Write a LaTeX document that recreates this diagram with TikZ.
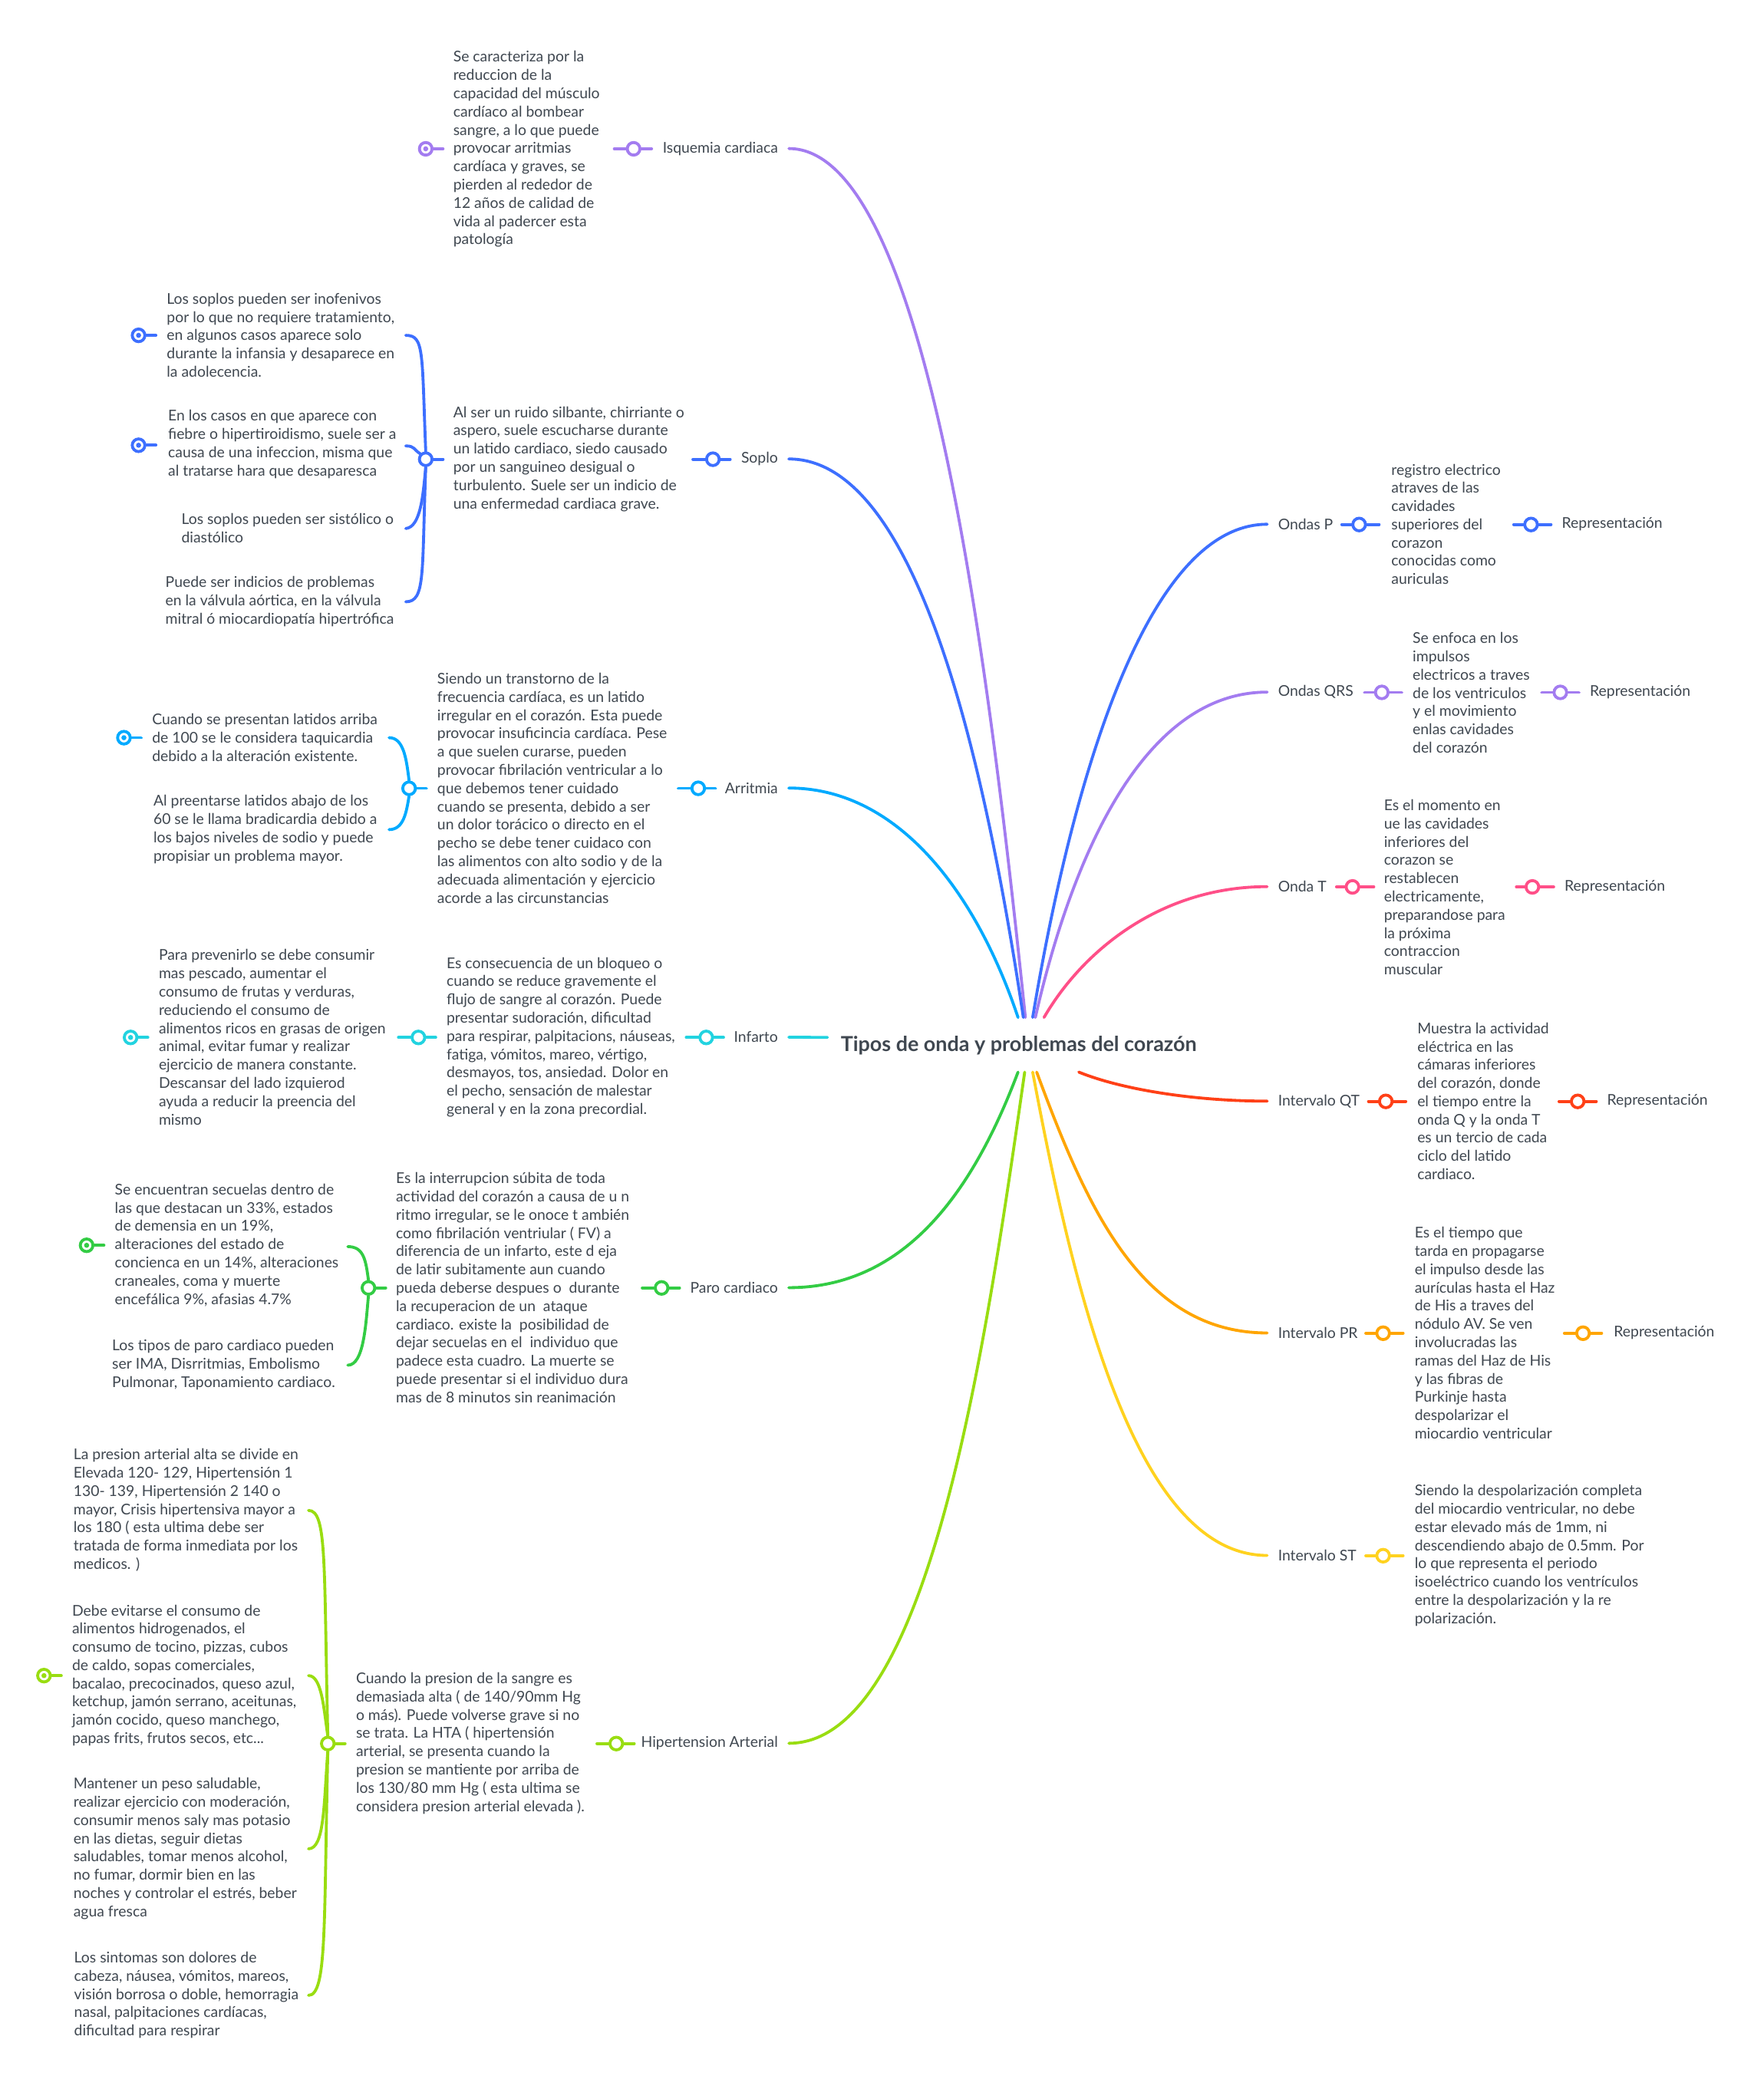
\documentclass[tikz,border=0pt]{standalone}
\usepackage{fontspec}
\setmainfont{Lato}
\definecolor{cpurple}{HTML}{A37CF0}
\definecolor{cblue}{HTML}{3D6FFF}
\definecolor{ccyan}{HTML}{00AAFF}
\definecolor{cteal}{HTML}{22D3E0}
\definecolor{cgreen}{HTML}{33CC44}
\definecolor{clime}{HTML}{99DD11}
\definecolor{cpink}{HTML}{FF4F88}
\definecolor{cred}{HTML}{FF4017}
\definecolor{corange}{HTML}{FFA500}
\definecolor{cyellow}{HTML}{FFD21F}
\definecolor{ctext}{HTML}{3F4750}
\tikzset{
  conn/.style={line width=2.2pt,line cap=round},
  ringnode/.style={circle,fill=white,line width=2.2pt,minimum size=9.5pt,inner sep=0pt},
  body/.style={anchor=west,align=left,inner sep=0pt,yshift=0.2pt,text=ctext,font=\fontsize{11.15}{13.7}\selectfont},
  labw/.style={body,inner xsep=8pt},
  labe/.style={anchor=east,align=left,inner sep=0pt,inner xsep=8pt,yshift=0.2pt,text=ctext,font=\fontsize{11.15}{13.7}\selectfont},
  rootnode/.style={anchor=center,inner sep=0pt,text=ctext,font=\fontsize{15.5}{18}\selectfont\bfseries},
}
% name, colour, x1, cx, x2, y
\newcommand\stubring[6]{%
  \coordinate (#1-a) at (#3,#6);
  \coordinate (#1-b) at (#5,#6);
  \node[ringnode,draw=#2] (#1) at (#4,#6) {};
  \draw[conn,#2] (#1-a) -- (#1.west);
  \draw[conn,#2] (#1.east) -- (#1-b);
}
% name, colour, cx, y
\newcommand\targetring[4]{%
  \coordinate (#1-b) at (#3+13,#4);
  \node[ringnode,draw=#2] (#1) at (#3,#4) {};
  \fill[#2] (#1.center) circle (1.9pt);
  \draw[conn,#2] (#1.east) -- (#1-b);
}
% name, colour, cx, y
\newcommand\branchring[4]{%
  \coordinate (#1-b) at (#3+13,#4);
  \node[ringnode,draw=#2] (#1) at (#3,#4) {};
  \draw[conn,#2] (#1.east) -- (#1-b);
}
\begin{document}
\begin{tikzpicture}[x=1pt,y=-1pt]
\useasboundingbox (0,-0.7) rectangle (1323.6,1567.3);

% root
\node[rootnode] (root) at (764.5,784) {Tipos de onda y problemas del corazón};
\coordinate (r-arr) at (764,763);
\coordinate (r-sop) at (768,763);
\coordinate (r-isq) at (769.5,763);
\coordinate (r-p) at (775,763);
\coordinate (r-qrs) at (777,763);
\coordinate (r-t) at (783.5,763);
\coordinate (r-inf) at (621,778);
\coordinate (r-par) at (764,804);
\coordinate (r-hip) at (769,804);
\coordinate (r-st) at (775,804);
\coordinate (r-pr) at (778,804);
\coordinate (r-qt) at (809.6,804);

% ---- left labels
\node[labe] (isq) at (592,111) {Isquemia cardiaca};
\node[labe] (sop) at (592,344) {Soplo};
\node[labe] (arr) at (592,591) {Arritmia};
\node[labe] (inf) at (592,778) {Infarto};
\node[labe] (par) at (592,966) {Paro cardiaco};
\node[labe] (hip) at (592,1308) {Hipertension Arterial};
% ---- right labels
\node[labw] (op) at (951,393) {Ondas P};
\node[labw] (oq) at (951,519) {Ondas QRS};
\node[labw] (ot) at (951,665) {Onda T};
\node[labw] (iq) at (951,826) {Intervalo QT};
\node[labw] (ipr) at (951,1000) {Intervalo PR};
\node[labw] (ist) at (951,1167) {Intervalo ST};

% ---- main curves
\draw[conn,cpurple] (isq.east) .. controls +(102,0) and +(-29,-280) .. (r-isq);
\draw[conn,cblue] (sop.east) .. controls +(95,0) and +(-30,-200) .. (r-sop);
\draw[conn,ccyan] (arr.east) .. controls +(84,0) and +(-30,-90) .. (r-arr);
\draw[conn,cteal] (inf.east) -- (r-inf);
\draw[conn,cgreen] (par.east) .. controls +(90,0) and +(-32,85) .. (r-par);
\draw[conn,clime] (hip.east) .. controls +(105,0) and +(-30,210) .. (r-hip);
\draw[conn,cblue] (op.west) .. controls +(-90,0) and +(30,-180) .. (r-p);
\draw[conn,cpurple] (oq.west) .. controls +(-97,0) and +(25,-110) .. (r-qrs);
\draw[conn,cpink] (ot.west) .. controls +(-80,0) and +(29,-50) .. (r-t);
\draw[conn,cred] (iq.west) .. controls +(-55,0) and +(32,13) .. (r-qt);
\draw[conn,corange] (ipr.west) .. controls +(-95,0) and +(37,100) .. (r-pr);
\draw[conn,cyellow] (ist.west) .. controls +(-100,0) and +(30,160) .. (r-st);

% ---- Isquemia
\stubring{isq1}{cpurple}{461}{475.5}{489}{111}
\node[body] (isqt) at (340,111.5) {Se caracteriza por la\\reduccion de la\\capacidad del músculo\\cardíaco al bombear\\sangre, a lo que puede\\provocar arritmias\\cardíaca y graves, se\\pierden al rededor de\\12 años de calidad de\\vida al padercer esta\\patología};
\targetring{isq2}{cpurple}{319.5}{111}

% ---- Soplo
\stubring{sop1}{cblue}{520}{535}{548}{344}
\node[body] (sopt) at (340,344) {Al ser un ruido silbante, chirriante o\\aspero, suele escucharse durante\\un latido cardiaco, siedo causado\\por un sanguineo desigual o\\turbulento. Suele ser un indicio de\\una enfermedad cardiaca grave.};
\branchring{sop2}{cblue}{319.5}{344}
\node[body] (sopa) at (125,251) {Los soplos pueden ser inofenivos\\por lo que no requiere tratamiento,\\en algunos casos aparece solo\\durante la infansia y desaparece en\\la adolecencia.};
\node[body] (sopb) at (126,333) {En los casos en que aparece con\\fiebre o hipertiroidismo, suele ser a\\causa de una infeccion, misma que\\al tratarse hara que desaparesca};
\node[body] (sopc) at (136,396) {Los soplos pueden ser sistólico o\\diastólico};
\node[body] (sopd) at (124,451) {Puede ser indicios de problemas\\en la válvula aórtica, en la válvula\\mitral ó miocardiopatía hipertrófica};
\targetring{sop3}{cblue}{104}{251}
\targetring{sop4}{cblue}{104}{333.5}
\coordinate (sopa-e) at (304.5,251);
\coordinate (sopb-e) at (304.5,334);
\coordinate (sopc-e) at (304.5,396);
\coordinate (sopd-e) at (304.5,451);
\draw[conn,cblue] (sopa-e) .. controls +(14,0) and +(-3,-75) .. (sop2.north);
\draw[conn,cblue] (sopb-e) .. controls +(7,0) and +(-5,-3) .. (sop2.north west);
\draw[conn,cblue] (sopc-e) .. controls +(11,-1) and +(-2,22) .. (sop2.south);
\draw[conn,cblue] (sopd-e) .. controls +(15,0) and +(-3,80) .. (sop2.south);

% ---- Arritmia
\stubring{arr1}{ccyan}{509}{524}{537}{591}
\node[body] (arrt) at (328,591) {Siendo un transtorno de la\\frecuencia cardíaca, es un latido\\irregular en el corazón. Esta puede\\provocar insuficincia cardíaca. Pese\\a que suelen curarse, pueden\\provocar fibrilación ventricular a lo\\que debemos tener cuidado\\cuando se presenta, debido a ser\\un dolor torácico o directo en el\\pecho se debe tener cuidaco con\\las alimentos con alto sodio y de la\\adecuada alimentación y ejercicio\\acorde a las circunstancias};
\branchring{arr2}{ccyan}{307}{591}
\node[body] (arra) at (114,553) {Cuando se presentan latidos arriba\\de 100 se le considera taquicardia\\debido a la alteración existente.};
\node[body] (arrb) at (115,622) {Al preentarse latidos abajo de los\\60 se le llama bradicardia debido a\\los bajos niveles de sodio y puede\\propisiar un problema mayor.};
\targetring{arr3}{ccyan}{93}{553}
\coordinate (arra-e) at (292,553);
\coordinate (arrb-e) at (292,622);
\draw[conn,ccyan] (arra-e) .. controls +(11,0) and +(-2,-16) .. (arr2.north);
\draw[conn,ccyan] (arrb-e) .. controls +(11,0) and +(-2,12) .. (arr2.south);

% ---- Infarto
\stubring{inf1}{cteal}{515}{530}{543}{778}
\node[body] (inft) at (335,778) {Es consecuencia de un bloqueo o\\cuando se reduce gravemente el\\flujo de sangre al corazón. Puede\\presentar sudoración, dificultad\\para respirar, palpitacions, náuseas,\\fatiga, vómitos, mareo, vértigo,\\desmayos, tos, ansiedad. Dolor en\\el pecho, sensación de malestar\\general y en la zona precordial.};
\stubring{inf2}{cteal}{299}{314}{327}{778}
\node[body] (infa) at (119,778) {Para prevenirlo se debe consumir\\mas pescado, aumentar el\\consumo de frutas y verduras,\\reduciendo el consumo de\\alimentos ricos en grasas de origen\\animal, evitar fumar y realizar\\ejercicio de manera constante.\\Descansar del lado izquierod\\ayuda a reducir la preencia del\\mismo};
\targetring{inf3}{cteal}{98}{778}

% ---- Paro
\stubring{par1}{cgreen}{482}{496.5}{510}{966}
\node[body] (part) at (297,966) {Es la interrupcion súbita de toda\\actividad del corazón a causa de u n\\ritmo irregular, se le onoce t ambién\\como fibrilación ventriular ( FV) a\\diferencia de un infarto, este d eja\\de latir subitamente aun cuando\\pueda deberse despues o\ \ durante\\la recuperacion de un\ \ ataque\\cardiaco. existe la\ \ posibilidad de\\dejar secuelas en el\ \ individuo que\\padece esta cuadro. La muerte se\\puede presentar si el individuo dura\\mas de 8 minutos sin reanimación};
\branchring{par2}{cgreen}{276.5}{966}
\node[body] (para) at (86,934) {Se encuentran secuelas dentro de\\las que destacan un 33\%, estados\\de demensia en un 19\%,\\alteraciones del estado de\\concienca en un 14\%, alteraciones\\craneales, coma y muerte\\encefálica 9\%, afasias 4.7\%};
\node[body] (parb) at (84,1024) {Los tipos de paro cardiaco pueden\\ser IMA, Disrritmias, Embolismo\\Pulmonar, Taponamiento cardiaco.};
\targetring{par3}{cgreen}{65}{934}
\coordinate (para-e) at (261,935);
\coordinate (parb-e) at (261,1024);
\draw[conn,cgreen] (para-e) .. controls +(12,0) and +(-2,-15) .. (par2.north);
\draw[conn,cgreen] (parb-e) .. controls +(12,0) and +(-2,22) .. (par2.south);

% ---- Hipertension
\stubring{hip1}{clime}{448}{462.5}{476}{1308}
\node[body] (hipt) at (267,1308) {Cuando la presion de la sangre es\\demasiada alta ( de 140/90mm Hg\\o más). Puede volverse grave si no\\se trata. La HTA ( hipertensión\\arterial, se presenta cuando la\\presion se mantiente por arriba de\\los 130/80 mm Hg ( esta ultima se\\considera presion arterial elevada ).};
\branchring{hip2}{clime}{246}{1308}
\node[body] (hipa) at (55,1133) {La presion arterial alta se divide en\\Elevada 120- 129, Hipertensión 1\\130- 139, Hipertensión 2 140 o\\mayor, Crisis hipertensiva mayor a\\los 180 ( esta ultima debe ser\\tratada de forma inmediata por los\\medicos. )};
\node[body] (hipb) at (54,1257) {Debe evitarse el consumo de\\alimentos hidrogenados, el\\consumo de tocino, pizzas, cubos\\de caldo, sopas comerciales,\\bacalao, precocinados, queso azul,\\ketchup, jamón serrano, aceitunas,\\jamón cocido, queso manchego,\\papas frits, frutos secos, etc...};
\node[body] (hipc) at (55,1387) {Mantener un peso saludable,\\realizar ejercicio con moderación,\\consumir menos saly mas potasio\\en las dietas, seguir dietas\\saludables, tomar menos alcohol,\\no fumar, dormir bien en las\\noches y controlar el estrés, beber\\agua fresca};
\node[body] (hipd) at (55.5,1497) {Los sintomas son dolores de\\cabeza, náusea, vómitos, mareos,\\visión borrosa o doble, hemorragia\\nasal, palpitaciones cardíacas,\\dificultad para respirar};
\targetring{hip3}{clime}{33}{1257}
\coordinate (hipa-e) at (231.5,1133);
\coordinate (hipb-e) at (231.5,1257);
\coordinate (hipc-e) at (231.5,1387);
\coordinate (hipd-e) at (231.5,1497);
\draw[conn,clime] (hipa-e) .. controls +(14,0) and +(-3,-130) .. (hip2.north);
\draw[conn,clime] (hipb-e) .. controls +(10,0) and +(-3,-20) .. (hip2.north);
\draw[conn,clime] (hipc-e) .. controls +(12,0) and +(-3,40) .. (hip2.south);
\draw[conn,clime] (hipd-e) .. controls +(14,0) and +(-3,130) .. (hip2.south);

% ---- Ondas P
\stubring{op1}{cblue}{1007}{1020}{1035}{393}
\node[body] (opt) at (1044,393) {registro electrico\\atraves de las\\cavidades\\superiores del\\corazon\\conocidas como\\auriculas};
\stubring{op2}{cblue}{1136}{1149}{1164}{393}
\node[body] (opr) at (1172,393) {Representación};

% ---- Ondas QRS
\stubring{oq1}{cpurple}{1024}{1037}{1052}{519}
\node[body] (oqt) at (1060,519.5) {Se enfoca en los\\impulsos\\electricos a traves\\de los ventriculos\\y el movimiento\\enlas cavidades\\del corazón};
\stubring{oq2}{cpurple}{1157}{1171}{1185}{519}
\node[body] (oqr) at (1193,519) {Representación};

% ---- Onda T
\stubring{ot1}{cpink}{1003}{1015}{1031}{665}
\node[body] (ott) at (1038.5,665.5) {Es el momento en\\ue las cavidades\\inferiores del\\corazon se\\restablecen\\electricamente,\\preparandose para\\la próxima\\contraccion\\muscular};
\stubring{ot2}{cpink}{1138}{1150}{1166}{665}
\node[body] (otr) at (1174,665) {Representación};

% ---- Intervalo QT
\stubring{iq1}{cred}{1027}{1040}{1055}{826}
\node[body] (iqt) at (1063.5,826) {Muestra la actividad\\eléctrica en las\\cámaras inferiores\\del corazón, donde\\el tiempo entre la\\onda Q y la onda T\\es un tercio de cada\\ciclo del latido\\cardiaco.};
\stubring{iq2}{cred}{1170}{1184}{1198}{826}
\node[body] (iqr) at (1206,826) {Representación};

% ---- Intervalo PR
\stubring{ipr1}{corange}{1025}{1038}{1053}{1000}
\node[body] (iprt) at (1061.5,1000) {Es el tiempo que\\tarda en propagarse\\el impulso desde las\\aurículas hasta el Haz\\de His a traves del\\nódulo AV. Se ven\\involucradas las\\ramas del Haz de His\\y las fibras de\\Purkinje hasta\\despolarizar el\\miocardio ventricular};
\stubring{ipr2}{corange}{1174}{1188}{1202}{1000}
\node[body] (iprr) at (1211,1000) {Representación};

% ---- Intervalo ST
\stubring{ist1}{cyellow}{1025}{1038}{1053}{1167}
\node[body] (istt) at (1061.5,1167) {Siendo la despolarización completa\\del miocardio ventricular, no debe\\estar elevado más de 1mm, ni\\descendiendo abajo de 0.5mm. Por\\lo que representa el periodo\\isoeléctrico cuando los ventrículos\\entre la despolarización y la re\\polarización.};
\end{tikzpicture}
\end{document}
